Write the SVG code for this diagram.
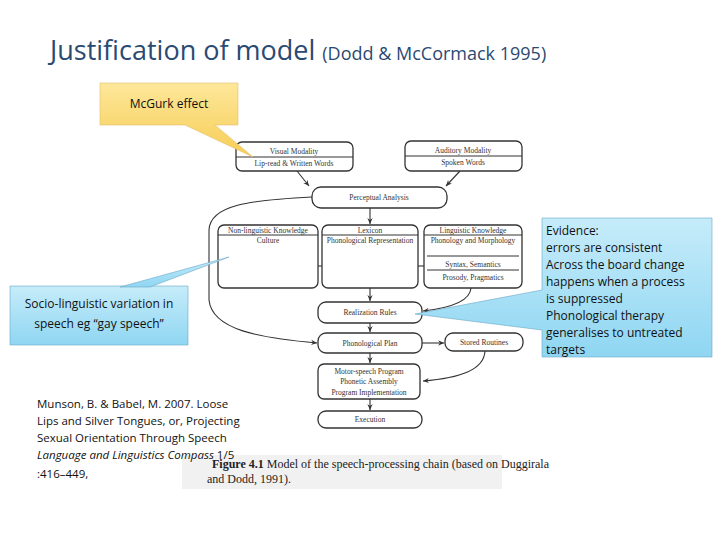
<svg xmlns="http://www.w3.org/2000/svg" width="728" height="546" viewBox="0 0 728 546">
<defs>
<marker id="ar" viewBox="0 0 10 10" refX="9" refY="5" markerWidth="6" markerHeight="6" orient="auto-start-reverse"><path d="M0,1 L9,5 L0,9 L3,5 z" fill="#333"/></marker>
<linearGradient id="bl" x1="0" y1="0" x2="0" y2="1"><stop offset="0" stop-color="#c6ecfa"/><stop offset="1" stop-color="#8fd6f2"/></linearGradient>
<linearGradient id="yl" x1="0" y1="0" x2="0" y2="1"><stop offset="0" stop-color="#fde79a"/><stop offset="1" stop-color="#f7cd55"/></linearGradient>
</defs>
<style>
.b{fill:#fff;stroke:#333;stroke-width:1.3}
.d{stroke:#333;stroke-width:1}
.t{font-family:"Liberation Serif",serif;font-size:7.5px;fill:#333;text-anchor:middle}
.c{font-family:"Open Sans","Liberation Sans",sans-serif;font-size:12px;fill:#111}
.l{fill:none;stroke:#333;stroke-width:1.1}
</style>
<rect width="728" height="546" fill="#fff"/>
<text x="50" y="60" font-family="Open Sans,Liberation Sans,sans-serif" font-size="27" fill="#2a4a72">Justification of model <tspan font-size="18">(Dodd &amp; McCormack 1995)</tspan></text>
<rect x="182" y="455" width="320" height="34" fill="#f1f1f1"/>
<text x="212" y="468" font-family="Liberation Serif,serif" font-size="12" fill="#222"><tspan font-weight="bold">Figure 4.1</tspan> Model of the speech-processing chain (based on Duggirala</text>
<text x="207" y="483" font-family="Liberation Serif,serif" font-size="12" fill="#222">and Dodd, 1991).</text>
<g id="connectors">
<path class="l" d="M297,171 L309,186" marker-end="url(#ar)"/>
<path class="l" d="M460,171 L446,186" marker-end="url(#ar)"/>
<path class="l" d="M370,208 L370,224" marker-end="url(#ar)"/>
<path class="l" d="M307,266 L329,266" marker-start="url(#ar)" marker-end="url(#ar)"/>
<path class="l" d="M410,266 L432,266" marker-start="url(#ar)" marker-end="url(#ar)"/>
<path class="l" d="M370,288 L370,301" marker-end="url(#ar)"/>
<path class="l" d="M471,288 C470,302 450,308 423,311" marker-end="url(#ar)"/>
<path class="l" d="M312,197 C250,200 210,205 209,230 L209,300 C212,330 260,338 317,343" marker-end="url(#ar)"/>
<path class="l" d="M370,323 L370,332" marker-end="url(#ar)"/>
<path class="l" d="M422,343 L444,343" marker-end="url(#ar)"/>
<path class="l" d="M370,353 L370,363" marker-end="url(#ar)"/>
<path class="l" d="M485,351 C484,370 460,378 423,381" marker-end="url(#ar)"/>
<path class="l" d="M370,399 L370,410" marker-end="url(#ar)"/>
</g>
<g id="visual"><rect class="b" x="236" y="142" width="117" height="29" rx="6"/><line class="d" x1="236" y1="157" x2="353" y2="157"/><text class="t" x="294" y="154">Visual Modality</text><text class="t" x="294" y="166">Lip-read &amp; Written Words</text></g>
<g id="auditory"><rect class="b" x="405" y="141" width="117" height="30" rx="6"/><line class="d" x1="405" y1="156" x2="522" y2="156"/><text class="t" x="463" y="153">Auditory Modality</text><text class="t" x="463" y="165">Spoken Words</text></g>
<g id="perceptual"><rect class="b" x="312" y="187" width="135" height="21" rx="9"/><text class="t" x="379" y="200">Perceptual Analysis</text></g>
<g id="nonling"><rect class="b" x="218" y="225" width="100" height="63" rx="6"/><line class="d" x1="218" y1="235" x2="318" y2="235"/><text class="t" x="268" y="233">Non-linguistic Knowledge</text><text class="t" x="268" y="243">Culture</text></g>
<g id="lexicon"><rect class="b" x="322" y="225" width="96" height="63" rx="6"/><line class="d" x1="322" y1="235" x2="418" y2="235"/><text class="t" x="370" y="233">Lexicon</text><text class="t" x="370" y="243">Phonological Representation</text></g>
<g id="ling"><rect class="b" x="424" y="225" width="98" height="63" rx="6"/><line class="d" x1="424" y1="235" x2="522" y2="235"/><line class="d" x1="427" y1="256" x2="519" y2="256"/><line class="d" x1="427" y1="270" x2="519" y2="270"/><text class="t" x="473" y="233">Linguistic Knowledge</text><text class="t" x="473" y="243">Phonology and Morphology</text><text class="t" x="473" y="267">Syntax, Semantics</text><text class="t" x="473" y="280">Prosody, Pragmatics</text></g>
<g id="realization"><rect class="b" x="318" y="302" width="104" height="21" rx="8"/><text class="t" x="370" y="315">Realization Rules</text></g>
<g id="phonplan"><rect class="b" x="318" y="333" width="104" height="20" rx="8"/><text class="t" x="370" y="346">Phonological Plan</text></g>
<g id="stored"><rect class="b" x="445" y="333" width="78" height="18" rx="8"/><text class="t" x="484" y="345">Stored Routines</text></g>
<g id="motor"><rect class="b" x="318" y="364" width="102" height="35" rx="6"/><text class="t" x="369" y="374">Motor-speech Program</text><text class="t" x="369" y="384">Phonetic Assembly</text><text class="t" x="369" y="395">Program Implementation</text></g>
<g id="execution"><rect class="b" x="318" y="411" width="104" height="17" rx="8"/><text class="t" x="370" y="422">Execution</text></g>
<g id="mcgurk"><path d="M100,83 H238 V125 H215 L253,157 L185,125 H100 Z" fill="url(#yl)" stroke="#e0c070" stroke-width="0.6"/><text class="c" x="169" y="108" text-anchor="middle">McGurk effect</text></g>
<g id="socio"><path d="M10,286 H188 V345 H10 Z" fill="url(#bl)" stroke="#6aa8c8" stroke-width="0.6"/><path d="M120,287 L229,257 L150,287 Z" fill="url(#bl)" stroke="#6aa8c8" stroke-width="0.6"/><text class="c" x="99" y="308" text-anchor="middle">Socio-linguistic variation in</text><text class="c" x="99" y="328" text-anchor="middle">speech eg “gay speech”</text></g>
<g id="evidence"><path d="M542,218 H712 V357 H542 V330 L415,314 L542,290 Z" fill="url(#bl)" stroke="#6aa8c8" stroke-width="0.6"/>
<text class="c" x="546" y="235">Evidence:</text><text class="c" x="546" y="252">errors are consistent</text><text class="c" x="546" y="269">Across the board change</text><text class="c" x="546" y="286">happens when a process</text><text class="c" x="546" y="303">is suppressed</text><text class="c" x="546" y="320">Phonological therapy</text><text class="c" x="546" y="337">generalises to untreated</text><text class="c" x="546" y="354">targets</text></g>
<g id="ref" font-family="Open Sans,Liberation Sans,sans-serif" font-size="11.5" fill="#111">
<text x="37" y="408">Munson, B. &amp; Babel, M. 2007. Loose</text><text x="37" y="425">Lips and Silver Tongues, or, Projecting</text><text x="37" y="442">Sexual Orientation Through Speech</text><text x="37" y="459"><tspan font-style="italic">Language and Linguistics Compass</tspan> 1/5</text><text x="37" y="478">:416–449,</text></g>
</svg>
